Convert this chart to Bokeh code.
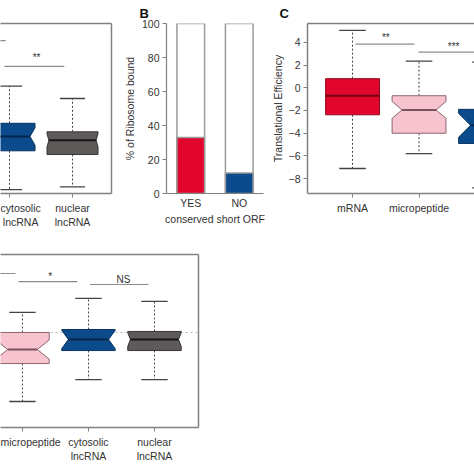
from bokeh.plotting import figure
from bokeh.models import LinearAxis, FixedTicker, Range1d, Label
from bokeh.layouts import row, column
from bokeh.embed import file_html
from bokeh.resources import INLINE
from bokeh.core.properties import value

FONT = "Liberation Sans"
TXT = "#333333"
FRAME = "#808080"
SIG = "#8c8c8c"

RED, RED_E, RED_M = "#E2062C", "#8E0A1E", "#6E0012"
PINK, PINK_E, PINK_M = "#F6C3CF", "#8C6670", "#7A5560"
BLUE, BLUE_E, BLUE_M = "#0B4A8B", "#0A3563", "#05264A"
GRAY, GRAY_E, GRAY_M = "#5E5A5A", "#3A3636", "#151515"

# ---------------- Panel A data ----------------
a_pos = [3, 4]
a_labels = {3: "cytosolic\nlncRNA", 4: "nuclear\nlncRNA"}
a_low = [0.35, 0.61]
a_q1 = [3.91, 3.57]
a_med = [5.22, 4.87]
a_q3 = [6.43, 5.65]
a_high = [9.83, 8.70]
a_notch_h = [0.8, 0.6]
a_notch_d = [0.08, 0.03]
a_sig_x0 = [2.0, 2.92]
a_sig_x1 = [2.94, 3.87]
a_sig_y = [14.0, 11.65]
a_sig_text = ["**"]
a_sig_tx = [3.43]
a_sig_ty = [12.45]

# ---------------- Panel B data ----------------
b_pos = [0.5, 1.5]
b_labels = {0.5: "YES", 1.5: "NO"}
b_pct = [33.0, 12.0]

# ---------------- Panel C data ----------------
c_pos = [1, 2, 3]
c_labels = {1: "mRNA", 2: "micropeptide"}
c_low = [-7.1, -5.8, -8.8]
c_q1 = [-2.38, -4.0, -4.9]
c_med = [-0.7, -1.95, -3.3]
c_q3 = [0.8, -0.7, -1.9]
c_high = [5.05, 2.35, 2.26]
c_notch_h = [0.0, 0.74, 1.05]
c_notch_d = [0.0, 0.15, 0.18]
c_sig_x0 = [1.045, 1.99]
c_sig_x1 = [1.932, 3.05]
c_sig_y = [3.83, 3.13]
c_sig_text = ["**", "***"]
c_sig_tx = [1.5, 2.52]
c_sig_ty = [4.45, 3.6]

# ---------------- Panel D data ----------------
d_pos = [2, 3, 4]
d_labels = {2: "micropeptide", 3: "cytosolic\nlncRNA", 4: "nuclear\nlncRNA"}
d_low = [-6.0, -4.09, -4.09]
d_q1 = [-2.70, -1.57, -1.57]
d_med = [-1.48, -0.61, -0.61]
d_q3 = [0.0, 0.26, 0.09]
d_high = [1.74, 2.96, 2.70]
d_notch_h = [0.83, 0.8, 0.6]
d_notch_d = [0.18, 0.1, 0.04]
d_ref = 0.0
d_sig_x0 = [1.0, 1.94, 3.02]
d_sig_x1 = [1.894, 2.83, 3.91]
d_sig_y = [5.13, 4.43, 4.17]
d_sig_text = ["*", "NS"]
d_sig_tx = [2.42, 3.53]
d_sig_ty = [4.85, 4.6]

HW = 0.405
CAP = 0.2
FS = "10.5px"


def border_axis(p, side):
    ax = LinearAxis(ticker=FixedTicker(ticks=[]), axis_line_color=FRAME, axis_line_width=1.5,
                    major_tick_out=0, major_tick_in=0, minor_tick_out=0, minor_tick_in=0,
                    major_label_standoff=0)
    p.add_layout(ax, side)


def cat_axis(p, pos, labels):
    ax = LinearAxis(ticker=FixedTicker(ticks=pos), major_label_overrides=labels,
                    axis_line_color=FRAME, axis_line_width=1.5,
                    major_tick_line_color=FRAME, major_tick_out=4, major_tick_in=0,
                    minor_tick_line_color=None, major_label_standoff=4,
                    major_label_text_font=FONT, major_label_text_font_size=FS,
                    major_label_text_color=TXT)
    p.add_layout(ax, "below")
    return ax


def boxes(p, pos, low, q1, med, q3, high, nh, nd, fills, edges, meds):
    xs, ys, mx0, mx1 = [], [], [], []
    for x, a, m, b, h, d in zip(pos, q1, med, q3, nh, nd):
        nw = HW - d
        xs.append([x - HW, x + HW, x + HW, x + nw, x + HW, x + HW, x - HW, x - HW, x - nw, x - HW])
        ys.append([b, b, m + h, m, m - h, a, a, m - h, m, m + h])
        mx0.append(x - nw)
        mx1.append(x + nw)
    p.segment(x0=pos, y0=q3, x1=pos, y1=high, line_color="#444444", line_dash="2 2", line_width=1)
    p.segment(x0=pos, y0=q1, x1=pos, y1=low, line_color="#444444", line_dash="2 2", line_width=1)
    p.segment(x0=[x - CAP for x in pos], y0=high, x1=[x + CAP for x in pos], y1=high,
              line_color="#444444", line_width=1.3)
    p.segment(x0=[x - CAP for x in pos], y0=low, x1=[x + CAP for x in pos], y1=low,
              line_color="#444444", line_width=1.3)
    p.patches(xs, ys, fill_color=fills, line_color=edges, line_width=1)
    p.segment(x0=mx0, y0=med, x1=mx1, y1=med, line_color=meds, line_width=2)


def sig(p, x0, x1, y, tx, ty, texts):
    p.segment(x0=x0, y0=y, x1=x1, y1=y, line_color=SIG, line_width=1.2)
    p.text(x=tx, y=ty, text=texts, text_align="center", text_baseline="middle",
           text_font_size="10px", text_color=TXT, text_font=value(FONT))


def base(width, height, xr, yr, l, r, t, b, title=None):
    p = figure(width=width, height=height, x_range=Range1d(*xr), y_range=Range1d(*yr),
               x_axis_location=None, y_axis_location=None, toolbar_location=None,
               output_backend="svg", min_border_left=l, min_border_right=r,
               min_border_top=t, min_border_bottom=b, outline_line_color=None,
               background_fill_color="white", border_fill_color="white", title=title)
    p.grid.visible = False
    return p


# ---------------- Figure A ----------------
pa = base(120, 250, (2.857, 4.619), (0.0, 15.57), 0, 9, 22, 49)
boxes(pa, a_pos, a_low, a_q1, a_med, a_q3, a_high, a_notch_h, a_notch_d,
      [BLUE, GRAY], [BLUE_E, GRAY_E], [BLUE_M, GRAY_M])
sig(pa, a_sig_x0, a_sig_x1, a_sig_y, a_sig_tx, a_sig_ty, a_sig_text)
cat_axis(pa, a_pos, a_labels)
border_axis(pa, "above")
border_axis(pa, "right")

# ---------------- Figure B ----------------
pb = base(145, 250, (0, 2), (0, 100), 35, 2, 22, 50, title="B")
pb.vbar(x=b_pos, top=[100] * len(b_pos), width=0.57, fill_color="white",
        line_color="#9a9a9a", line_width=1.5)
pb.vbar(x=b_pos, top=b_pct, width=0.57, fill_color=[RED, BLUE],
        line_color=["#9a9a9a", "#9a9a9a"], line_width=1.5)
ya = LinearAxis(ticker=FixedTicker(ticks=[0, 20, 40, 60, 80, 100]), axis_line_color=FRAME,
                axis_line_width=1.2, major_tick_line_color=FRAME, major_tick_out=4, major_tick_in=0,
                minor_tick_line_color=None, major_label_standoff=3,
                major_label_text_font=FONT, major_label_text_font_size=FS,
                major_label_text_color=TXT, axis_label="% of Ribosome bound",
                axis_label_text_font=FONT, axis_label_text_font_size=FS,
                axis_label_text_font_style="normal", axis_label_text_color=TXT,
                axis_label_standoff=3)
pb.add_layout(ya, "left")
xa = LinearAxis(ticker=FixedTicker(ticks=b_pos), major_label_overrides=b_labels,
                axis_line_color=FRAME, axis_line_width=1.2, major_tick_line_color=None,
                minor_tick_line_color=None, major_tick_out=0, major_label_standoff=3,
                major_label_text_font=FONT, major_label_text_font_size=FS,
                major_label_text_color=TXT, axis_label="conserved short ORF",
                axis_label_text_font=FONT, axis_label_text_font_size=FS,
                axis_label_text_font_style="normal", axis_label_text_color=TXT,
                axis_label_standoff=1)
pb.add_layout(xa, "below")

# ---------------- Figure C ----------------
pc = base(209, 250, (0.323, 2.834), (-9.3, 5.65), 42, 0, 21, 57, title="C")
boxes(pc, c_pos, c_low, c_q1, c_med, c_q3, c_high, c_notch_h, c_notch_d,
      [RED, PINK, BLUE], [RED_E, PINK_E, BLUE_E], [RED_M, PINK_M, BLUE_M])
sig(pc, c_sig_x0, c_sig_x1, c_sig_y, c_sig_tx, c_sig_ty, c_sig_text)
cat_axis(pc, c_pos[:2], c_labels)
yc = LinearAxis(ticker=FixedTicker(ticks=[-8, -6, -4, -2, 0, 2, 4]), axis_line_color=FRAME,
                axis_line_width=1.5, major_tick_line_color=FRAME, major_tick_out=4, major_tick_in=0,
                minor_tick_line_color=None, major_label_standoff=3,
                major_label_text_font=FONT, major_label_text_font_size=FS,
                major_label_text_color=TXT, axis_label="Translational Efficiency",
                axis_label_text_font=FONT, axis_label_text_font_size=FS,
                axis_label_text_font_style="normal", axis_label_text_color=TXT,
                axis_label_standoff=2)
pc.add_layout(yc, "left")
border_axis(pc, "above")
pc.add_layout(Label(x=c_pos[2], y=-9.3, y_offset=-9, text="cytosolic\nlncRNA",
                    text_align="center", text_baseline="top", text_font=FONT,
                    text_font_size=FS, text_color=TXT))

for p, off in ((pb, -27), (pc, -28)):
    p.title.text_font = FONT
    p.title.text_font_size = "13px"
    p.title.text_font_style = "bold"
    p.title.text_color = "#111111"
    p.title.align = "left"
    p.title.offset = off
    p.title.standoff = 6

# ---------------- Figure D ----------------
pd_ = base(210, 224, (1.667, 4.667), (-8.26, 6.78), 0, 12, 4, 47)
pd_.line(x=[1.667, 4.667], y=[d_ref, d_ref], line_color="#b5b5b5", line_dash="2 3", line_width=1)
boxes(pd_, d_pos, d_low, d_q1, d_med, d_q3, d_high, d_notch_h, d_notch_d,
      [PINK, BLUE, GRAY], [PINK_E, BLUE_E, GRAY_E], [PINK_M, BLUE_M, GRAY_M])
sig(pd_, d_sig_x0, d_sig_x1, d_sig_y, d_sig_tx, d_sig_ty, d_sig_text)
cat_axis(pd_, d_pos, d_labels)
border_axis(pd_, "above")
border_axis(pd_, "right")

layout = column(row(pa, pb, pc), pd_)
open("out.html", "w").write(file_html(layout, INLINE))
